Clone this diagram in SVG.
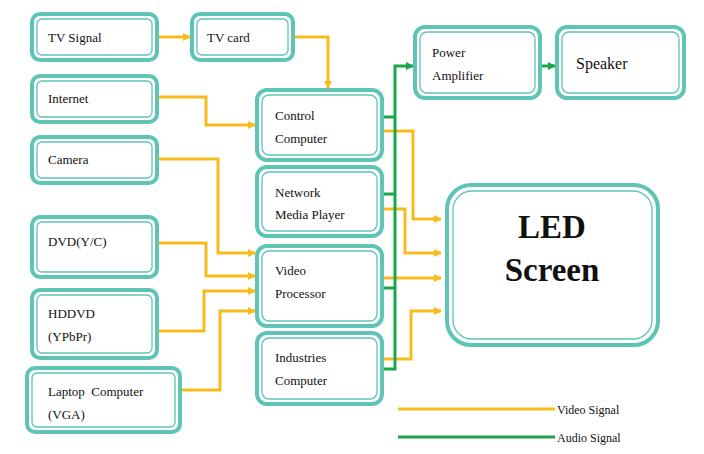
<svg xmlns="http://www.w3.org/2000/svg" width="704" height="454" viewBox="0 0 704 454">
<style>
.o{fill:#fff;stroke:#5ec4b6;stroke-width:4}
.i{fill:none;stroke:#5ec4b6;stroke-width:1.3}
text{font-family:'Liberation Serif','DejaVu Serif','Times New Roman',serif;font-size:13px;fill:#111}
text.big{font-size:33px;font-weight:bold}
text.sp{font-size:16px}
text.lg{font-size:12px}
.y{fill:none;stroke:#f7bb1c;stroke-width:3}
.g{fill:none;stroke:#1aa64a;stroke-width:3}
</style>
<defs>
<marker id="ay" markerWidth="8" markerHeight="8" refX="7" refY="4" orient="auto" markerUnits="userSpaceOnUse"><path d="M0,0L8,4L0,8z" fill="#f7bb1c"/></marker>
<marker id="ag" markerWidth="8" markerHeight="8" refX="7" refY="4" orient="auto" markerUnits="userSpaceOnUse"><path d="M0,0L8,4L0,8z" fill="#1aa64a"/></marker>
</defs>
<rect width="704" height="454" fill="#fff"/>
<g id="connectors">
<path class="y" d="M157,37H190" marker-end="url(#ay)"/>
<path class="y" d="M293,37H328V88" marker-end="url(#ay)"/>
<path class="y" d="M157,97H206V125H255" marker-end="url(#ay)"/>
<path class="y" d="M157,159H218V253H255" marker-end="url(#ay)"/>
<path class="y" d="M157,243H206V276H255" marker-end="url(#ay)"/>
<path class="y" d="M157,331H204V291H255" marker-end="url(#ay)"/>
<path class="y" d="M180,390H220V311H255" marker-end="url(#ay)"/>
<path class="y" d="M382,131H413V219H441" marker-end="url(#ay)"/>
<path class="y" d="M382,209H405V253H441" marker-end="url(#ay)"/>
<path class="y" d="M382,278H441" marker-end="url(#ay)"/>
<path class="y" d="M382,359H411V311H441" marker-end="url(#ay)"/>
<path class="g" d="M382,117H395M382,194H395M382,288H395M382,369H395V66H413" marker-end="url(#ag)"/>
<path class="g" d="M540,66H555" marker-end="url(#ag)"/>
<path class="y" d="M398,409H555"/>
<path class="g" d="M398,437H555"/>
</g>
<text class="lg" x="557" y="414">Video Signal</text>
<text class="lg" x="557" y="442">Audio Signal</text>
<g id="tvsignal"><rect class="o" x="32" y="14" width="125" height="46" rx="8"/><rect class="i" x="37" y="19" width="115" height="36" rx="5"/><text x="48" y="42">TV Signal</text></g>
<g id="tvcard"><rect class="o" x="192" y="14" width="101" height="46" rx="8"/><rect class="i" x="197" y="19" width="91" height="36" rx="5"/><text x="207" y="42">TV card</text></g>
<g id="internet"><rect class="o" x="32" y="76" width="125" height="46" rx="8"/><rect class="i" x="37" y="81" width="115" height="36" rx="5"/><text x="48" y="103">Internet</text></g>
<g id="camera"><rect class="o" x="32" y="137" width="125" height="46" rx="8"/><rect class="i" x="37" y="142" width="115" height="36" rx="5"/><text x="48" y="164">Camera</text></g>
<g id="dvd"><rect class="o" x="32" y="217" width="125" height="60" rx="8"/><rect class="i" x="37" y="222" width="115" height="50" rx="5"/><text x="48" y="246">DVD(Y/C)</text></g>
<g id="hddvd"><rect class="o" x="32" y="290" width="125" height="68" rx="8"/><rect class="i" x="37" y="295" width="115" height="58" rx="5"/><text x="48" y="318">HDDVD</text><text x="48" y="341">(YPbPr)</text></g>
<g id="laptop"><rect class="o" x="27" y="368" width="153" height="64" rx="8"/><rect class="i" x="32" y="373" width="143" height="54" rx="5"/><text x="48" y="396" xml:space="preserve">Laptop  Computer</text><text x="48" y="419">(VGA)</text></g>
<g id="control"><rect class="o" x="257" y="90" width="125" height="70" rx="10"/><rect class="i" x="262" y="95" width="115" height="60" rx="7"/><text x="275" y="120">Control</text><text x="275" y="143">Computer</text></g>
<g id="nmp"><rect class="o" x="257" y="167" width="125" height="69" rx="10"/><rect class="i" x="262" y="172" width="115" height="59" rx="7"/><text x="275" y="197">Network</text><text x="275" y="219">Media Player</text></g>
<g id="vp"><rect class="o" x="257" y="246" width="125" height="80" rx="10"/><rect class="i" x="262" y="251" width="115" height="70" rx="7"/><text x="275" y="275">Video</text><text x="275" y="298">Processor</text></g>
<g id="ind"><rect class="o" x="257" y="333" width="125" height="71" rx="10"/><rect class="i" x="262" y="338" width="115" height="61" rx="7"/><text x="275" y="362">Industries</text><text x="275" y="385">Computer</text></g>
<g id="amp"><rect class="o" x="415" y="27" width="125" height="71" rx="10"/><rect class="i" x="420" y="32" width="115" height="61" rx="7"/><text x="432" y="57">Power</text><text x="432" y="80">Amplifier</text></g>
<g id="speaker"><rect class="o" x="557" y="27" width="127" height="71" rx="10"/><rect class="i" x="562" y="32" width="117" height="61" rx="7"/><text class="sp" x="576" y="69">Speaker</text></g>
<g id="led"><rect class="o" x="447" y="185" width="211" height="160" rx="24"/><rect class="i" x="453" y="191" width="199" height="148" rx="19"/><text class="big" x="552" y="238" text-anchor="middle">LED</text><text class="big" x="552" y="281" text-anchor="middle">Screen</text></g>
</svg>
